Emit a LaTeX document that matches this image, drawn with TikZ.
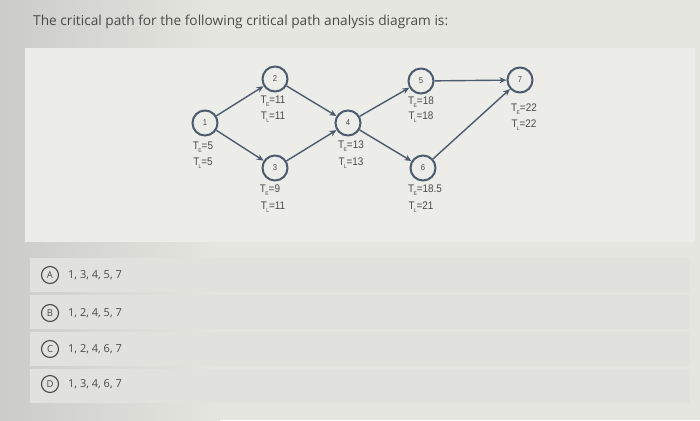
\documentclass[tikz,border=0pt]{standalone}
\usepackage{fontspec}
\setmainfont{Open Sans}
\newfontfamily\diagfont[FakeStretch=0.9]{Liberation Sans}
\usetikzlibrary{arrows.meta}
\definecolor{bgl}{HTML}{CBCBC9}
\definecolor{bgr}{HTML}{E6E6E0}
\definecolor{panel}{HTML}{ECECE9}
\definecolor{rowc}{HTML}{E1E1DD}
\definecolor{ink}{HTML}{4D5B6E}
\definecolor{txt}{HTML}{4A4A4A}
\definecolor{sep}{HTML}{F2F2F0}
\tikzset{
  evt/.style={circle,draw=ink,line width=2pt,minimum size=25pt,inner sep=0pt,font=\diagfont\fontsize{8.5}{9}\selectfont,text=txt},
  lbl/.style={font=\diagfont\fontsize{11}{12}\selectfont,text=txt,inner sep=0pt,align=center},
  arr/.style={draw=ink,line width=1.4pt,-{Stealth[length=7pt,width=6pt]}},
  opt/.style={circle,draw=txt,line width=1.1pt,minimum size=17pt,inner sep=0pt,font=\fontsize{9.5}{10}\selectfont,text=txt},
  opttxt/.style={anchor=west,font=\fontsize{11}{12}\selectfont,text=txt,inner sep=0pt},
}
\newcommand{\subl}[1]{\kern-0.6pt\raisebox{-0.55ex}{\fontsize{5.5}{6}\selectfont #1}}
\newcommand{\te}[1]{T\subl{E}=#1}
\newcommand{\tl}[1]{T\subl{L}=#1}
\begin{document}
\begin{tikzpicture}[x=1pt,y=-1pt]
\useasboundingbox (0,0) rectangle (700,420);
\shade[left color=bgl,right color=bgr] (0,0) rectangle (220,420);
\fill[bgr] (220,0) rectangle (700,420);
\fill[panel] (25,48) rectangle (695,242);
\fill[rowc] (30,258) rectangle (690,292);
\fill[rowc] (30,295) rectangle (690,329);
\fill[rowc] (30,332) rectangle (690,366);
\fill[rowc] (30,369) rectangle (690,403);

\node[anchor=west,inner sep=0pt,font=\fontsize{13.7}{15}\selectfont,text=txt] (title) at (33,22) {The critical path for the following critical path analysis diagram is:};

\node[evt] (n1) at (205,123) {1};
\node[evt] (n2) at (275,79) {2};
\node[evt] (n3) at (275,168) {3};
\node[evt] (n4) at (348,123) {4};
\node[evt] (n5) at (421,81) {5};
\node[evt] (n6) at (423,168) {6};
\node[evt] (n7) at (520,80) {7};

\draw[arr] (n1) -- (n2);
\draw[arr] (n1) -- (n3);
\draw[arr] (n2) -- (n4);
\draw[arr] (n3) -- (n4);
\draw[arr] (n4) -- (n5);
\draw[arr] (n4) -- (n6);
\draw[arr] (n5) -- (n7);
\draw[arr] (n6) -- (n7);

\node[lbl] (l1e) at (203,147) {\te{5}};
\node[lbl] (l1l) at (203,163) {\tl{5}};
\node[lbl] (l2e) at (273,101) {\te{11}};
\node[lbl] (l2l) at (273,117) {\tl{11}};
\node[lbl] (l3e) at (270,190) {\te{9}};
\node[lbl] (l3l) at (273,207) {\tl{11}};
\node[lbl] (l4e) at (351,146) {\te{13}};
\node[lbl] (l4l) at (351,163) {\tl{13}};
\node[lbl] (l5e) at (421,102) {\te{18}};
\node[lbl] (l5l) at (421,117) {\tl{18}};
\node[lbl] (l6e) at (425,190) {\te{18.5}};
\node[lbl] (l6l) at (421,207) {\tl{21}};
\node[lbl] (l7e) at (524,109) {\te{22}};
\node[lbl] (l7l) at (524,125) {\tl{22}};

\node[opt] (oa) at (50,275) {A};
\node[opttxt] (ta) at (68,275) {1, 3, 4, 5, 7};
\node[opt] (ob) at (50,313) {B};
\node[opttxt] (tb) at (68,313) {1, 2, 4, 5, 7};
\node[opt] (oc) at (50,349) {C};
\node[opttxt] (tc) at (68,349) {1, 2, 4, 6, 7};
\node[opt] (od) at (50,384) {D};
\node[opttxt] (td) at (68,384) {1, 3, 4, 6, 7};
\end{tikzpicture}
\end{document}
